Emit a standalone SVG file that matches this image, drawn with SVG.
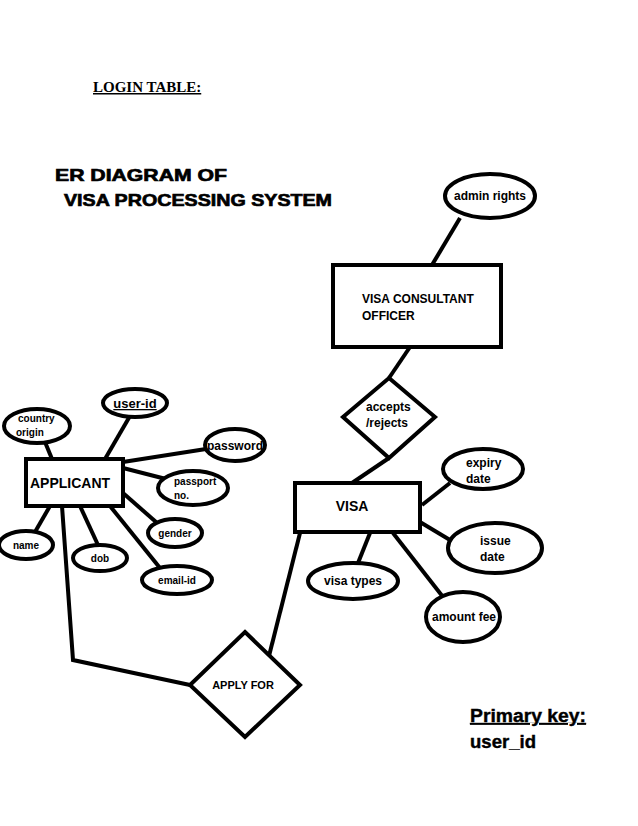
<svg xmlns="http://www.w3.org/2000/svg" width="638" height="826" viewBox="0 0 638 826">
<style>
.s{fill:#fff;stroke:#000;stroke-width:4}
.c line,.c polyline{stroke:#000;stroke-width:4;fill:none}
text{font-family:"Liberation Sans",Arial,sans-serif;font-weight:bold;fill:#000}
.t{font-size:17px;stroke:#000;stroke-width:0.7}
.a{font-size:11px}
</style>
<rect width="638" height="826" fill="#fff"/>
<text x="93" y="92" style="font-family:'Liberation Serif',serif;font-size:15px" text-decoration="underline">LOGIN TABLE:</text>
<text x="55" y="181" class="t" textLength="172" lengthAdjust="spacingAndGlyphs">ER DIAGRAM OF</text>
<text x="64" y="206" class="t" textLength="268" lengthAdjust="spacingAndGlyphs">VISA PROCESSING SYSTEM</text>
<text x="470" y="722" style="font-size:18px;stroke:#000;stroke-width:0.4" text-decoration="underline" textLength="116" lengthAdjust="spacingAndGlyphs">Primary key:</text>
<text x="470" y="748" style="font-size:18px;stroke:#000;stroke-width:0.4" textLength="66" lengthAdjust="spacingAndGlyphs">user_id</text>
<g class="c">
<line x1="105" y1="459" x2="130" y2="416"/>
<line x1="52" y1="459" x2="45" y2="442"/>
<line x1="123" y1="462" x2="206" y2="449"/>
<line x1="123" y1="468" x2="166" y2="479"/>
<line x1="123" y1="493" x2="156" y2="522"/>
<line x1="110" y1="506" x2="160" y2="568"/>
<line x1="80" y1="506" x2="98" y2="545"/>
<line x1="50" y1="506" x2="35" y2="532"/>
<polyline points="62,506 73,660 190,685"/>
<line x1="268" y1="660" x2="300" y2="533"/>
<line x1="389" y1="458" x2="352" y2="483"/>
<line x1="389" y1="378" x2="410" y2="347"/>
<line x1="422" y1="505" x2="450" y2="483"/>
<line x1="420" y1="522" x2="450" y2="540"/>
<line x1="370" y1="533" x2="358" y2="563"/>
<line x1="393" y1="533" x2="443" y2="597"/>
<line x1="460" y1="218" x2="432" y2="265"/>
</g>
<g id="applicant"><rect class="s" x="26" y="459" width="97" height="47"/><text x="30" y="488" style="font-size:14px">APPLICANT</text></g>
<g id="user-id"><ellipse class="s" cx="135" cy="403" rx="32" ry="14"/><text x="135" y="408" text-anchor="middle" text-decoration="underline" style="font-size:13px">user-id</text></g>
<g id="country"><ellipse class="s" cx="37" cy="426" rx="33" ry="17"/><text x="18" y="422" style="font-size:10px">country</text><text x="16" y="436" style="font-size:10px">origin</text></g>
<g id="password"><ellipse class="s" cx="235" cy="445" rx="30" ry="16"/><text x="235" y="450" text-anchor="middle" style="font-size:12px">password</text></g>
<g id="passport"><ellipse class="s" cx="193" cy="488" rx="35" ry="17"/><text x="174" y="485" style="font-size:10px">passport</text><text x="174" y="499" style="font-size:10px">no.</text></g>
<g id="gender"><ellipse class="s" cx="175" cy="533" rx="27" ry="14"/><text x="175" y="537" text-anchor="middle" style="font-size:10px">gender</text></g>
<g id="email"><ellipse class="s" cx="177" cy="580" rx="35" ry="14"/><text x="177" y="584" text-anchor="middle" style="font-size:10px">email-id</text></g>
<g id="dob"><ellipse class="s" cx="100" cy="558" rx="27" ry="13"/><text x="100" y="562" text-anchor="middle" style="font-size:10px">dob</text></g>
<g id="name"><ellipse class="s" cx="26" cy="545" rx="27" ry="14"/><text x="26" y="549" text-anchor="middle" style="font-size:10px">name</text></g>
<g id="applyfor"><polygon class="s" points="245,632 300,685 245,737 190,685"/><text x="243" y="689" text-anchor="middle" style="font-size:11px">APPLY FOR</text></g>
<g id="visa"><rect class="s" x="295" y="483" width="125" height="49"/><text x="352" y="511" text-anchor="middle" style="font-size:14px">VISA</text></g>
<g id="accepts"><polygon class="s" points="389,378 435,417 389,458 343,417"/><text x="366" y="411" style="font-size:12px">accepts</text><text x="366" y="427" style="font-size:12px">/rejects</text></g>
<g id="expiry"><ellipse class="s" cx="483" cy="469" rx="40" ry="20"/><text x="466" y="467" style="font-size:12px">expiry</text><text x="466" y="483" style="font-size:12px">date</text></g>
<g id="issue"><ellipse class="s" cx="495" cy="548" rx="47" ry="25"/><text x="480" y="545" style="font-size:12px">issue</text><text x="480" y="561" style="font-size:12px">date</text></g>
<g id="visatypes"><ellipse class="s" cx="353" cy="581" rx="45" ry="18"/><text x="353" y="585" text-anchor="middle" style="font-size:12px">visa types</text></g>
<g id="amount"><ellipse class="s" cx="463" cy="617" rx="37" ry="25"/><text x="464" y="621" text-anchor="middle" style="font-size:12px">amount fee</text></g>
<g id="vso"><rect class="s" x="333" y="265" width="168" height="82"/><text x="362" y="303" style="font-size:12px">VISA CONSULTANT</text><text x="362" y="320" style="font-size:12px">OFFICER</text></g>
<g id="admin"><ellipse class="s" cx="490" cy="196" rx="45" ry="22"/><text x="490" y="200" text-anchor="middle" style="font-size:12px">admin rights</text></g>
</svg>
